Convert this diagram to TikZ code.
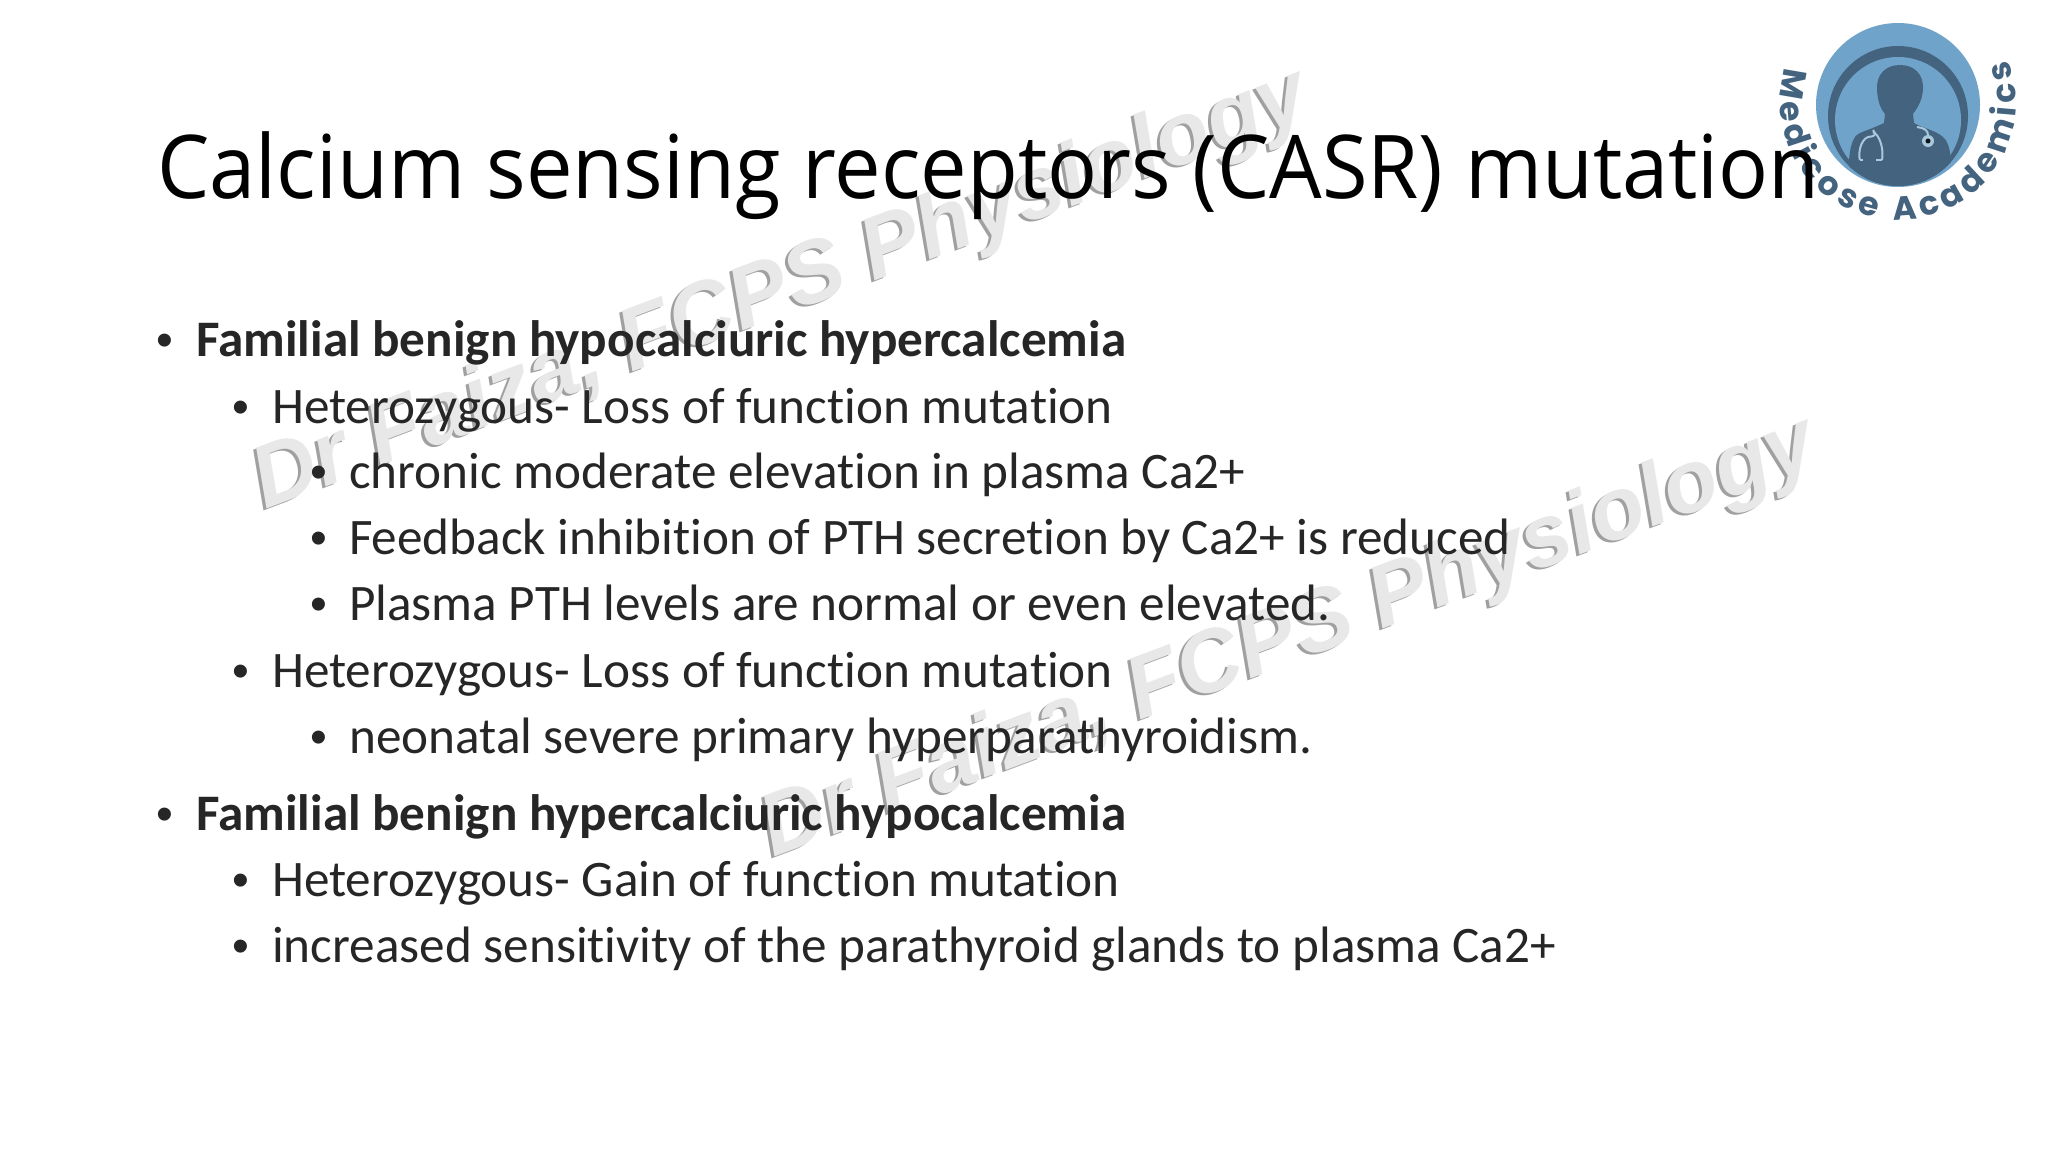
\documentclass[tikz,border=0pt]{standalone}
\usepackage{fontspec}
\setmainfont[Ligatures=NoCommon]{Carlito}
\newfontfamily\titlefont[FakeStretch=0.943]{Open Sans}
\newfontfamily\wmfont{Liberation Sans}
\newfontfamily\dotfont{Liberation Sans}
\newfontfamily\logofont{Poppins}
\usetikzlibrary{decorations.text}
\definecolor{bodyink}{HTML}{262626}
\definecolor{logolight}{HTML}{6FA3C9}
\definecolor{logodark}{HTML}{44637F}
\definecolor{logoline}{HTML}{A9C8DE}
\definecolor{wmface}{HTML}{E8E8E8}
\definecolor{wmshade}{HTML}{A0A0A0}
\tikzset{
  line/.style={anchor=base west,inner sep=0pt,text=bodyink,font=\fontsize{51.2}{51.2}\selectfont},
  head/.style={line,font=\fontsize{51.2}{51.2}\selectfont\bfseries},
  dot/.style={anchor=base,inner sep=0pt,text=bodyink,font=\fontsize{48}{48}\dotfont\selectfont},
  wmb/.style={anchor=base west,inner sep=0pt,rotate=20.6,text=wmshade,font=\fontsize{88}{88}\wmfont\bfseries\itshape\selectfont},
  wmf/.style={anchor=base west,inner sep=0pt,rotate=20.6,text=wmface,font=\fontsize{88}{88}\wmfont\bfseries\itshape\selectfont},
}
\begin{document}
\begin{tikzpicture}[x=1pt,y=1pt]
\useasboundingbox (0,0) rectangle (2048,-1152);
\fill[white] (0,0) rectangle (2048,-1152);
% watermark
\node[wmb] (w1s) at (262,-512) {Dr Faiza, FCPS Physiology};
\node[wmf] (w1) at (265,-510) {Dr Faiza, FCPS Physiology};
\node[wmb] (w2s) at (770,-860) {Dr Faiza, FCPS Physiology};
\node[wmf] (w2) at (773,-858) {Dr Faiza, FCPS Physiology};
% logo
\fill[logolight] (1898,-105) circle (82);
\fill[logodark] (1898,-116) circle (70);
\fill[logolight] (1898,-120) circle (63);
\begin{scope}
\clip (1898,-116) circle (70);
\fill[logodark] (1900,-65) .. controls (1885,-65) and (1877,-75) .. (1877,-87)
  .. controls (1877,-100) and (1880,-108) .. (1885,-114)
  -- (1884,-123) .. controls (1870,-130) and (1858,-132) .. (1855,-137)
  .. controls (1851,-143) and (1850,-150) .. (1849,-160) -- (1849,-195) -- (1952,-195) -- (1951,-160)
  .. controls (1950,-148) and (1947,-140) .. (1943,-137)
  .. controls (1935,-130) and (1922,-128) .. (1914,-123)
  -- (1913,-114) .. controls (1919,-106) and (1923,-98) .. (1923,-87)
  .. controls (1923,-75) and (1915,-65) .. (1900,-65) -- cycle;
\end{scope}
\draw[logoline,line width=2pt] (1873,-130) .. controls (1875,-133) and (1878,-136) .. (1868,-137)
  .. controls (1860,-140) and (1858,-155) .. (1860,-160);
\draw[logoline,line width=2pt] (1873,-132) .. controls (1880,-135) and (1884,-150) .. (1882,-160);
\draw[logoline,line width=2pt] (1860,-160) -- (1863,-160) (1882,-160) -- (1876,-160);
\draw[logoline,line width=2pt] (1917,-127) .. controls (1924,-128) and (1928,-130) .. (1928,-135);
\fill[logoline] (1928,-141) circle (6);
\fill[black!80!logodark] (1928,-141) circle (2.5);
\path[postaction={decorate},decoration={text along path,raise=0pt,
  text={|\fontsize{33}{33}\logofont\bfseries\selectfont\color{logodark}|Medicose Academics},text align=fit to path}]
  (1785,-67.5) arc[start angle=163,end angle=381,radius=118];
% title
\node[anchor=base west,inner sep=0pt,text=black,font=\fontsize{88}{88}\titlefont\selectfont] (title) at (157,-198) {Calcium sensing receptors (CASR) mutation};
% body
\node[dot] (b1) at (165,-356) {•};
\node[head] (t1) at (196,-356) {Familial benign hypocalciuric hypercalcemia};
\node[dot] (b2) at (241,-423) {•};
\node[line] (t2) at (272,-423) {Heterozygous- Loss of function mutation};
\node[dot] (b3) at (319,-488) {•};
\node[line] (t3) at (349,-488) {chronic moderate elevation in plasma Ca2+};
\node[dot] (b4) at (319,-554) {•};
\node[line] (t4) at (349,-554) {Feedback inhibition of PTH secretion by Ca2+ is reduced};
\node[dot] (b5) at (319,-620) {•};
\node[line] (t5) at (349,-620) {Plasma PTH levels are normal or even elevated.};
\node[dot] (b6) at (241,-687) {•};
\node[line] (t6) at (272,-687) {Heterozygous- Loss of function mutation};
\node[dot] (b7) at (319,-753) {•};
\node[line] (t7) at (349,-753) {neonatal severe primary hyperparathyroidism.};
\node[dot] (b8) at (165,-830) {•};
\node[head] (t8) at (196,-830) {Familial benign hypercalciuric hypocalcemia};
\node[dot] (b9) at (241,-896) {•};
\node[line] (t9) at (272,-896) {Heterozygous- Gain of function mutation};
\node[dot] (b10) at (241,-962) {•};
\node[line] (t10) at (272,-962) {increased sensitivity of the parathyroid glands to plasma Ca2+};
\end{tikzpicture}
\end{document}
